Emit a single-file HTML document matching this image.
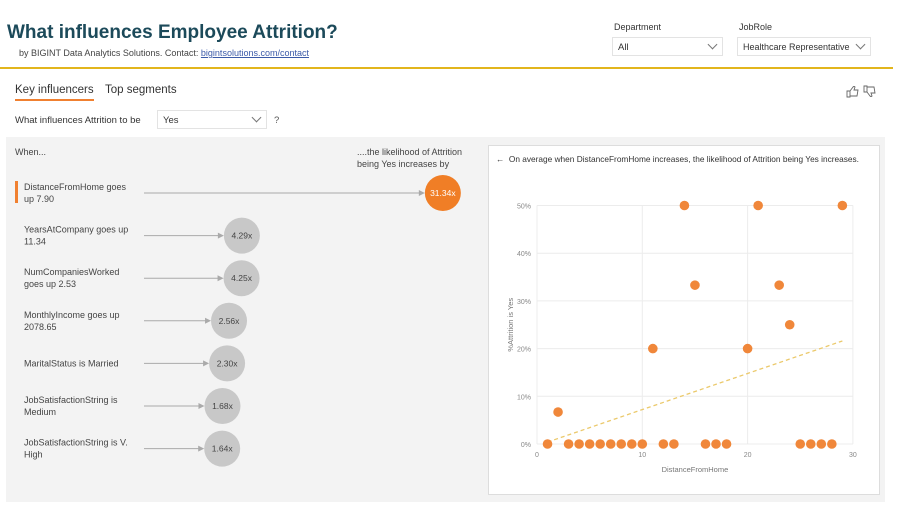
<!DOCTYPE html>
<html><head><meta charset="utf-8">
<style>
body{margin:0;width:899px;height:512px;background:#fff;font-family:"Liberation Sans",sans-serif;position:relative;overflow:hidden}
.abs{position:absolute}
.dd{position:absolute;border:1px solid #e3e3e3;background:#fff;font-size:9.5px;color:#333;box-sizing:border-box;padding:4px 5px;white-space:nowrap}
.chev{position:absolute;right:6px;top:3px;width:6px;height:6px;border-right:1px solid #777;border-bottom:1px solid #777;transform:rotate(45deg)}
</style></head><body>
<div class="abs" style="left:7px;top:22px;font-size:19px;font-weight:bold;color:#1c4a5a">What influences Employee Attrition?</div>
<div class="abs" style="left:19px;top:48px;font-size:9px;color:#444">by BIGINT Data Analytics Solutions. Contact: <span style="color:#3b5aa8;text-decoration:underline">bigintsolutions.com/contact</span></div>
<div class="abs" style="left:614px;top:22px;font-size:9px;color:#333">Department</div>
<div class="dd" style="left:612px;top:37px;width:111px;height:19px">All<span class="chev"></span></div>
<div class="abs" style="left:739px;top:22px;font-size:9px;color:#333">JobRole</div>
<div class="dd" style="left:737px;top:37px;width:134px;height:19px;font-size:9px">Healthcare Representative<span class="chev"></span></div>
<div class="abs" style="left:0;top:67px;width:893px;height:2px;background:#e2b51c"></div>

<div class="abs" style="left:15px;top:84px;font-size:11.5px;color:#333;border-bottom:2px solid #f08030;padding-bottom:3px">Key influencers</div>
<div class="abs" style="left:105px;top:84px;font-size:11.5px;color:#333">Top segments</div>
<svg class="abs" style="left:846px;top:85px" width="32" height="14">
<path d="M1,6 h3 v6 h-3z M4,6 l3,-4 q1,-1 2,0 l-1,3 h4 l-1,6 h-7" fill="none" stroke="#666" stroke-width="0.9"/>
<path d="M18,7 h3 v-6 h-3z M21,7 l3,4 q1,1 2,0 l-1,-3 h4 l-1,-6 h-7" fill="none" stroke="#666" stroke-width="0.9"/>
</svg>
<div class="abs" style="left:15px;top:115px;font-size:9.5px;color:#333">What influences Attrition to be</div>
<div class="dd" style="left:157px;top:110px;width:110px;height:19px">Yes<span class="chev"></span></div>
<div class="abs" style="left:274px;top:115px;font-size:9.5px;color:#555">?</div>

<div class="abs" style="left:6px;top:137px;width:879px;height:365px;background:#f3f3f3"></div>
<div class="abs" style="left:15px;top:147px;font-size:9px;color:#444">When...</div>
<div class="abs" style="left:357px;top:146px;font-size:9px;color:#444;line-height:12px">....the likelihood of Attrition<br>being Yes increases by</div>
<div class="abs" style="left:15px;top:181px;width:3px;height:22px;background:#f08030"></div>
<svg id="inf" class="abs" style="left:0;top:0" width="480" height="512"></svg>

<div class="abs" style="left:488px;top:145px;width:392px;height:350px;background:#fff;border:1px solid #ddd;box-sizing:border-box"></div>
<div class="abs" style="left:496px;top:154px;font-size:8.3px;color:#333;white-space:nowrap">&#8592;&nbsp; On average when DistanceFromHome increases, the likelihood of Attrition being Yes increases.</div>
<svg id="sc" class="abs" style="left:488px;top:145px" width="392" height="350"></svg>

<script>
const lines1=["DistanceFromHome goes","YearsAtCompany goes up","NumCompaniesWorked","MonthlyIncome goes up","MaritalStatus is Married","JobSatisfactionString is","JobSatisfactionString is V."];
const lines2=["up 7.90","11.34","goes up 2.53","2078.65","","Medium","High"];
const factors=[31.34,4.29,4.25,2.56,2.30,1.68,1.64];
const NS="http://www.w3.org/2000/svg";
function mk(p,t,a){const e=document.createElementNS(NS,t);for(const k in a)e.setAttribute(k,a[k]);p.appendChild(e);return e;}
const inf=document.getElementById('inf');
const fx=v=>210+7.43*v;
factors.forEach((v,i)=>{
  const cy=193+i*42.6, cx=fx(v), r=18;
  const txt=mk(inf,'text',{x:24,y:cy-3,'font-size':9,fill:'#444','font-family':'Liberation Sans'});
  
  
  txt.textContent=lines1[i];
  if(lines2[i]){const t2=mk(inf,'text',{x:24,y:cy+9,'font-size':9,fill:'#444','font-family':'Liberation Sans'});t2.textContent=lines2[i];}
  else txt.setAttribute('y',cy+3);
  const ln=mk(inf,'line',{x1:144,y1:cy,x2:cx-r-2,y2:cy,stroke:'#aaa','stroke-width':1});
  
  
  mk(inf,'path',{d:`M${cx-r-6},${cy-3}L${cx-r},${cy}L${cx-r-6},${cy+3}Z`,fill:'#aaa'});
  const c=mk(inf,'circle',{cx:cx,cy:cy,r:r,fill:i==0?'#f07e26':'#c8c8c8'});
  
  
  const tv=mk(inf,'text',{x:cx,y:cy+3,'text-anchor':'middle','font-size':8.5,fill:i==0?'#fff':'#444','font-family':'Liberation Sans'});
  tv.textContent=v.toFixed(2)+'x';
});

const xs=[1,2,3,4,5,6,7,8,9,10,11,12,13,14,15,16,17,18,20,21,23,24,25,26,27,28,29];
const ys=[0,6.7,0,0,0,0,0,0,0,0,20,0,0,50,33.3,0,0,0,20,50,33.3,25,0,0,0,0,50];
const trendX=[1,29];
const trendY=[0.4,21.6];
const xTicks=[0,10,20,30];
const yTicks=[0,10,20,30,40,50];
const sc=document.getElementById('sc');
const X=v=>49+v*10.53, Y=v=>299-v*4.77;
yTicks.forEach(t=>{
  const g=mk(sc,'line',{x1:X(0),x2:X(30),y1:Y(t),y2:Y(t),stroke:'#ececec'});
  
  
  const l=mk(sc,'text',{x:X(0)-6,y:Y(t)+3,'text-anchor':'end','font-size':7,fill:'#888','font-family':'Liberation Sans'});
  
  
  l.textContent=t+'%';
});
xTicks.forEach(t=>{
  const g=mk(sc,'line',{x1:X(t),x2:X(t),y1:Y(0),y2:Y(50),stroke:'#ececec'});
  
  
  const l=mk(sc,'text',{x:X(t),y:Y(0)+13,'text-anchor':'middle','font-size':7,fill:'#888','font-family':'Liberation Sans'});
  
  
  l.textContent=t;
});
const xt=mk(sc,'text',{x:X(15),y:Y(0)+28,'text-anchor':'middle','font-size':7.5,fill:'#777','font-family':'Liberation Sans'});


xt.textContent='DistanceFromHome';
const yt=mk(sc,'text',{x:0,y:0,transform:`translate(${X(0)-24},${Y(25)}) rotate(-90)`,'text-anchor':'middle','font-size':7.5,fill:'#777','font-family':'Liberation Sans'});


yt.textContent='%Attrition is Yes';
const tl=mk(sc,'line',{x1:X(trendX[0]),y1:Y(trendY[0]),x2:X(trendX[1]),y2:Y(trendY[1]),stroke:'#ebc96b','stroke-width':1.3,'stroke-dasharray':'4,3'});


xs.forEach((x,i)=>{
  const c=mk(sc,'circle',{cx:X(x),cy:Y(ys[i]),r:4.8,fill:'#f0873a'});
  
  
});
</script>
</body></html>
